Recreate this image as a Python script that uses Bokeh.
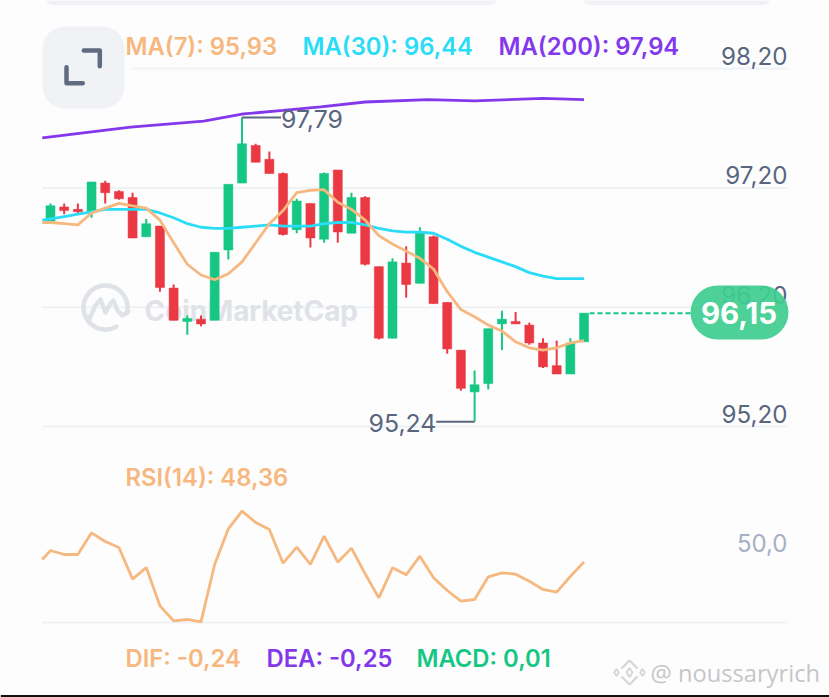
from bokeh.plotting import figure
from bokeh.models import Range1d, ColumnDataSource
from bokeh.core.properties import value
from bokeh.embed import file_html
from bokeh.resources import INLINE

# ---- data ----
opens = [96.92,97.04,97.02,97.00,97.24,97.17,97.12,96.79,96.88,96.36,96.08,96.10,96.09,96.68,97.24,97.555,97.44,97.32,96.85,97.07,
         96.77,97.35,96.82,97.12,96.54,95.94,96.57,96.40,96.79,96.24,95.84,95.49,95.56,96.06,96.08,96.05,95.90,95.71,95.64,95.91]
closes = [97.05,97.01,97.00,97.25,97.16,97.11,96.78,96.90,96.365,96.09,96.105,96.06,96.66,97.23,97.57,97.415,97.32,96.81,97.09,96.78,
          97.32,96.83,97.12,96.56,95.94,96.58,96.39,96.83,96.23,95.85,95.52,95.55,96.02,96.10,96.06,95.90,95.70,95.64,95.90,96.15]
highs = [97.07,97.07,97.07,97.25,97.26,97.18,97.16,96.94,96.88,96.39,96.13,96.13,96.66,97.23,97.79,97.57,97.505,97.33,97.11,97.07,
         97.33,97.35,97.16,97.13,96.54,96.61,96.71,96.87,96.80,96.24,95.84,95.67,96.02,96.17,96.16,96.07,95.94,95.92,95.94,96.15]
lows = [96.91,96.98,96.99,96.95,97.07,97.10,96.78,96.79,96.33,96.09,95.97,96.04,96.09,96.60,97.24,97.415,97.32,96.80,96.82,96.70,
        96.74,96.74,96.82,96.55,95.93,95.94,96.28,96.40,96.23,95.81,95.50,95.24,95.51,95.84,96.06,95.885,95.69,95.64,95.64,95.91]
line_x = [-0.6] + list(range(40))
ma7 = [96.91,96.91,96.90,96.89,96.99,97.03,97.07,97.05,97.03,96.93,96.74,96.56,96.47,96.43,96.48,96.58,96.74,96.90,97.01,97.16,97.18,
       97.185,97.08,97.02,96.93,96.80,96.73,96.67,96.61,96.52,96.33,96.18,96.12,96.05,96.00,95.91,95.86,95.84,95.86,95.90,95.92]
ma30 = [96.93,96.94,96.96,96.98,97.00,97.02,97.02,97.02,97.02,96.99,96.95,96.90,96.87,96.86,96.86,96.87,96.88,96.89,96.88,96.88,96.88,
        96.90,96.91,96.91,96.89,96.86,96.84,96.83,96.83,96.82,96.77,96.71,96.66,96.62,96.58,96.54,96.49,96.46,96.44,96.44,96.44]
ma200_x = [-0.6,5.85,11.2,14.1,17,19.75,23,27.6,31,36,39]
ma200 = [97.62,97.71,97.76,97.82,97.85,97.88,97.92,97.94,97.93,97.95,97.94]
rsi = [49.09,51.82,50.61,50.61,57.17,54.55,52.73,43.13,46.67,35.05,30.51,30.91,30.20,47.58,58.38,63.74,60.30,58.18,47.98,52.83,47.58,
       56.16,48.28,52.53,44.75,37.47,46.57,44.44,50.10,43.54,39.70,36.46,36.97,43.84,45.05,44.65,42.53,40.00,39.19,43.94,48.36]
price_ticks = [98.2,97.2,96.2,95.2]
price_labels = ["98,20","97,20","96,20","95,20"]
last_price = 96.15
last_label = "96,15"
high_value, high_label = 97.79, "97,79"
low_value, low_label = 95.24, "95,24"
rsi_grid = 30

GREEN="#16c784"; RED="#ea3943"; ORANGE="#f6b87e"; CYAN="#2bdcf7"; PURPLE="#8338ec"; GRAY="#58667e"; GRID="#eff2f5"

W,H=829,697
p=figure(width=W,height=H,output_backend="svg",toolbar_location=None,min_border=0,
         x_range=Range1d(-3.655,56.944),y_range=Range1d(92.9284,98.7708),
         x_axis_location=None,y_axis_location=None,background_fill_color="#fdfdfe",border_fill_color="#fdfdfe")
p.outline_line_color=None
p.grid.visible=False
p.extra_x_ranges["s"]=Range1d(0,829)
p.extra_y_ranges["s"]=Range1d(697,0)
p.extra_y_ranges["rsi"]=Range1d(7.27,218.48)
S=dict(x_range_name="s",y_range_name="s")
F=value("Inter")
FM=value("Inter SemiBold")

# screen edges
p.quad(left=[45,582],right=[497,770],top=[-20,-20],bottom=[4.5,4.5],fill_color="#eff1f5",line_color=None,border_radius=8,**S)
p.quad(left=[0],right=[829],top=[694.5],bottom=[697],fill_color="#111111",line_color=None,**S)

# grids
p.segment([-0.6]*3,price_ticks[1:],[53.87]*3,price_ticks[1:],line_color=GRID,line_width=2)
p.segment([6.0],price_ticks[:1],[53.87],price_ticks[:1],line_color=GRID,line_width=2)
p.segment([-0.6],[rsi_grid],[53.87],[rsi_grid],line_color=GRID,line_width=2,y_range_name="rsi")

# watermark
WM="#dfe2e7"
p.arc(x=[105],y=[307],radius=[22],start_angle=[-0.26],end_angle=[-1.05],direction="anticlock",line_color=WM,line_width=4.5,line_cap="round",**S)
p.line([88,95,100,105,110,113,117,122,128],[320,305,299,312,303,300,310,315,311],line_color=WM,line_width=4.5,line_join="round",line_cap="round",**S)
p.text([144],[310],text=["CoinMarketCap"],text_font=F,text_font_style="bold",text_font_size="27.9px",text_color=WM,text_baseline="middle",**S)

# candles
src=ColumnDataSource(dict(x=list(range(40)),o=opens,c=closes,h=highs,l=lows,
    col=[GREEN if c>=o else RED for o,c in zip(opens,closes)]))
p.segment("x","h","x","l",source=src,line_color="col",line_width=2)
p.vbar(x="x",top="o",bottom="c",width=0.66,source=src,fill_color="col",line_color="col",line_width=0.5)

# moving averages
p.line(ma200_x,ma200,line_color=PURPLE,line_width=2.8)
p.line(line_x,ma30,line_color=CYAN,line_width=2.8)
p.line(line_x,ma7,line_color=ORANGE,line_width=2.8)
p.line(line_x,rsi,line_color=ORANGE,line_width=2.8,y_range_name="rsi")

# high/low callouts
p.line([14,14+2.85],[high_value,high_value],line_color=GRAY,line_width=2.2)
p.line([31,31-2.8],[low_value,low_value],line_color=GRAY,line_width=2.2)
p.text([16.85],[high_value],text=[high_label],text_font=F,text_font_size="24.8px",text_color=GRAY,text_baseline="middle",y_offset=1)
p.text([28.2],[low_value],text=[low_label],text_font=F,text_font_size="24.8px",text_color=GRAY,text_baseline="middle",text_align="right",y_offset=1)

# price labels
p.text([53.87]*4,price_ticks,text=price_labels,text_font=F,text_font_size="24.2px",text_color=GRAY,text_align="right",text_baseline="middle",y_offset=-12.5)
p.text([787],[50],text=["50,0"],text_font=F,text_font_size="24px",text_color="#a6b0c3",text_align="right",text_baseline="middle",x_range_name="s",y_range_name="rsi",y_offset=-13)

# last price
p.line([39.4,46.8],[last_price,last_price],line_color=GREEN,line_width=2,line_dash="5 3")
p.quad(left=[690],right=[788],top=[285],bottom=[339],fill_color="#3fcd90",fill_alpha=0.93,line_color=None,border_radius=27,**S)
p.text([738.5],[312],text=[last_label],text_font=F,text_font_style="bold",text_font_size="29.5px",text_color="#ffffff",text_align="center",text_baseline="middle",**S)

# button
p.quad(left=[42],right=[124],top=[26],bottom=[108],fill_color="#f0f2f6",line_color=None,border_radius=22,**S)
p.multi_line([[83.3,99.3,99.3],[66,66,82.3]],[[50,50,65.7],[66.7,82.7,82.7]],line_color="#5f6b80",line_width=4.5,line_cap="round",line_join="round",**S)

# legends
def label(x,y,t,c,size="23.8px"):
    p.text([x],[y],text=[t],text_font=FM,text_font_size=size,text_color=c,text_baseline="middle",**S)
label(125,46,"MA(7): 95,93",ORANGE)
label(302,46,"MA(30): 96,44",CYAN)
label(498,46,"MA(200): 97,94",PURPLE)
label(125,477,"RSI(14): 48,36",ORANGE)
label(125,658,"DIF: -0,24",ORANGE)
label(266,658,"DEA: -0,25",PURPLE)
label(416,658,"MACD: 0,01",GREEN)

# source mark
MK="#d5d5d5"
p.multi_line([[621,629,637],[621,629,637]],[[668,660,668],[676,684,676]],line_color=MK,line_width=2.2,**S)
p.scatter([616,642,629],[672,672,672],marker="diamond",size=[7,7,9],fill_color=None,line_color=MK,line_width=1.8,**S)
p.text([650],[672],text=["@ noussaryrich"],text_font=value("Open Sans"),text_font_size="23.7px",text_color="#c6c6c6",text_baseline="middle",**S)

open("out.html","w").write(file_html(p,INLINE))
